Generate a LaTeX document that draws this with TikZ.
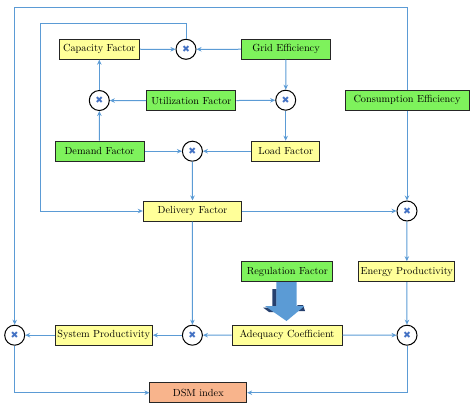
\documentclass[tikz,border=0pt]{standalone}
\usepackage{fontspec}
\newfontfamily\dejavu{DejaVu Sans}
\usetikzlibrary{arrows.meta}
\definecolor{lblue}{RGB}{91,155,213}
\definecolor{xblue}{RGB}{68,114,196}
\definecolor{gfill}{RGB}{126,242,92}
\definecolor{yfill}{RGB}{255,255,153}
\definecolor{sfill}{RGB}{248,180,140}
\definecolor{dnavy}{RGB}{38,64,110}
\tikzset{
  box/.style={draw=black!85, line width=1pt, minimum height=20pt, inner sep=0pt, font=\fontsize{10.3}{12}\selectfont},
  gbox/.style={box, fill=gfill},
  ybox/.style={box, fill=yfill},
  sbox/.style={box, fill=sfill},
  mult/.style={circle, draw=black, line width=1pt, fill=white, minimum size=20pt, inner sep=0pt, text=xblue, font=\dejavu\fontsize{9.5}{9.5}\selectfont},
  arr/.style={draw=lblue, line width=1pt, -{Stealth[length=5pt,width=4.5pt]}},
  ln/.style={draw=lblue, line width=1pt}
}
\begin{document}
\begin{tikzpicture}[x=1pt,y=-1pt]
\useasboundingbox (0,0) rectangle (474,410);
% boxes
\node[ybox, minimum width=80pt] (cf) at (99.3,49.2) {Capacity Factor};
\node[gbox, minimum width=89.4pt] (ge) at (286,49.2) {Grid Efficiency};
\node[gbox, minimum width=89.3pt] (uf) at (191.3,100.8) {Utilization Factor};
\node[gbox, minimum width=124pt] (ce) at (407,100.2) {Consumption Efficiency};
\node[gbox, minimum width=89pt] (df) at (99.5,151.2) {Demand Factor};
\node[ybox, minimum width=68pt] (lf) at (285.7,151.2) {Load Factor};
\node[ybox, minimum width=98.4pt] (dlf) at (192.5,211) {Delivery Factor};
\node[gbox, minimum width=90.7pt] (rf) at (287.3,271.7) {Regulation Factor};
\node[ybox, minimum width=96.3pt] (ep) at (406.8,271.7) {Energy Productivity};
\node[ybox, minimum width=97.3pt] (sp) at (103.7,335.2) {System Productivity};
\node[ybox, minimum width=110pt] (ac) at (287,335) {Adequacy Coefficient};
\node[sbox, minimum width=96.7pt] (dsm) at (198.3,392.7) {DSM index};
% multipliers
\node[mult] (c1) at (186,49.3) {✖};
\node[mult] (c2) at (99.3,100.5) {✖};
\node[mult] (c3) at (285.7,100.2) {✖};
\node[mult] (c4) at (192.4,151.2) {✖};
\node[mult] (c5) at (407,211) {✖};
\node[mult] (c6) at (14.7,335.2) {✖};
\node[mult] (c7) at (192.4,335.2) {✖};
\node[mult] (c8) at (407,335.2) {✖};
% frame corners
\coordinate (o1) at (407,7);
\coordinate (o2) at (14.7,7);
\coordinate (i1) at (186,23.3);
\coordinate (i2) at (40.7,23.3);
\coordinate (i3) at (40.7,211);
% connectors
\draw[arr] (cf) -- (c1);
\draw[arr] (ge) -- (c1);
\draw[arr] (ge) -- (c3);
\draw[arr] (uf) -- (c3);
\draw[arr] (uf) -- (c2);
\draw[arr] (df) -- (c2);
\draw[arr] (c2) -- (cf);
\draw[arr] (df) -- (c4);
\draw[arr] (lf) -- (c4);
\draw[arr] (c3) -- (lf);
\draw[arr] (c4) -- (dlf);
\draw[arr] (c1) -- (i1) -- (i2) -- (i3) -- (dlf);
\draw[arr] (ce) -- (o1) -- (o2) -- (c6);
\draw[arr] (ce) -- (c5);
\draw[arr] (dlf) -- (c5);
\draw[arr] (c5) -- (ep);
\draw[arr] (ep) -- (c8);
\draw[arr] (ac) -- (c8);
\draw[arr] (ac) -- (c7);
\draw[arr] (dlf) -- (c7);
\draw[arr] (c7) -- (sp);
\draw[arr] (sp) -- (c6);
\draw[arr] (c6) |- (dsm);
\draw[arr] (c8) |- (dsm);
% block arrow from Regulation Factor to Adequacy Coefficient
\fill[dnavy] (272.3,289) -- (276.5,289) -- (276.5,306) -- (272.3,308) -- cycle;
\fill[dnavy] (263,307.5) -- (275,307.5) -- (277,312) -- (269,312) -- cycle;
\fill[dnavy] (297.5,305) -- (303,305) -- (305,311) -- (297,311) -- cycle;
\fill[lblue] (276.3,282) -- (296.7,282) -- (296.7,306) -- (304.5,306) -- (286.5,321) -- (265,306) -- (276.3,306) -- cycle;
\end{tikzpicture}
\end{document}
